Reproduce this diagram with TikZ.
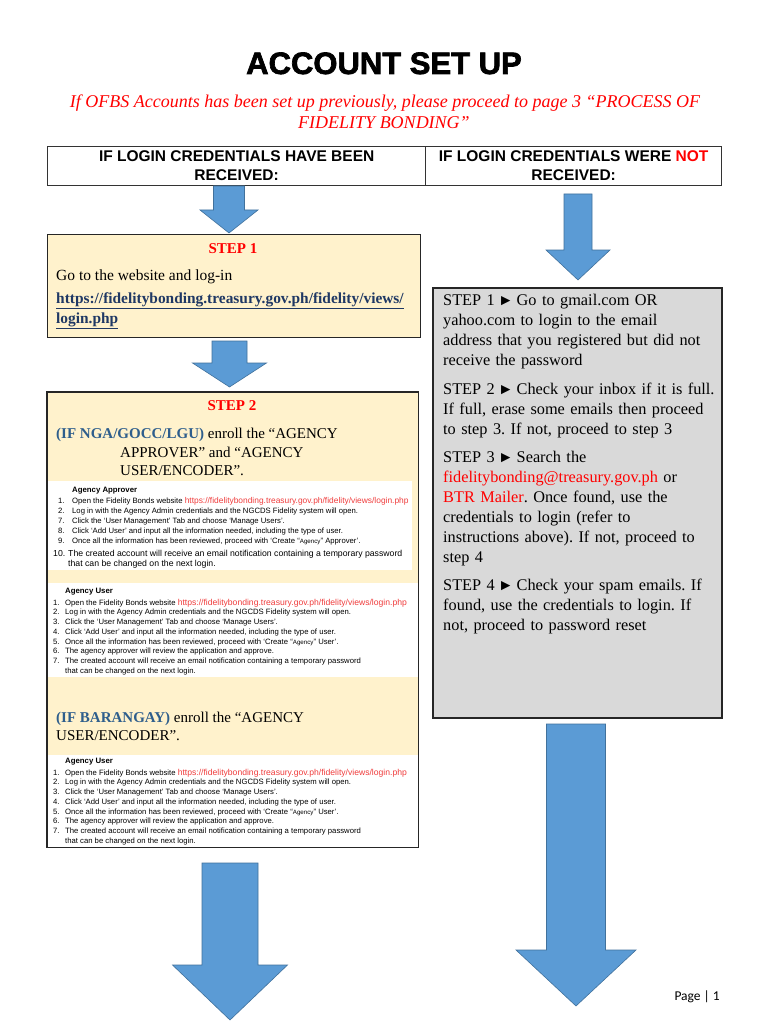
\documentclass[tikz,border=0pt]{standalone}
\usepackage{fontspec}
\setmainfont{Liberation Serif}
\newfontfamily\arialfont{Liberation Sans}
\newfontfamily\heavyfont{Liberation Sans}[BoldFeatures={FakeBold=2.2}]
\newfontfamily\calibrifont{Carlito}
\usetikzlibrary{positioning}
\definecolor{stepYellow}{HTML}{FFF2CC}
\definecolor{stepGray}{HTML}{D9D9D9}
\definecolor{arrowBlue}{HTML}{5B9BD5}
\definecolor{arrowEdge}{HTML}{41719C}
\definecolor{linkBlue}{HTML}{1F3864}
\definecolor{typeBlue}{HTML}{2E5E8C}
\definecolor{alertRed}{HTML}{FF0000}
\definecolor{urlRed}{HTML}{F03C3C}
\frenchspacing
\newcommand{\pointer}{\makebox[11pt]{\fontsize{15.5}{15.5}\selectfont ►}}

% agency user list, first baseline at #1
\newcommand{\agencyuserlist}[1]{%
  \node[lst, font=\arialfont\bfseries\fontsize{7.8}{10}\selectfont] at (65,#1-12) {Agency User};
  \foreach \n/\t [count=\i from 0] in {
      1/{Open the Fidelity Bonds website \textcolor{urlRed}{\fontsize{8.6}{10}\selectfont https://fidelitybonding.treasury.gov.ph/fidelity/views/login.php}},
      2/{Log in with the Agency Admin credentials and the NGCDS Fidelity system will open.},
      3/{Click the ‘User Management’ Tab and choose ‘Manage Users’.},
      4/{Click ‘Add User’ and input all the information needed, including the type of user.},
      5/{Once all the information has been reviewed, proceed with ‘Create “{\fontsize{6.2}{8}\selectfont Agency}” User’.},
      6/{The agency approver will review the application and approve.},
      7/{The created account will receive an email notification containing a temporary password}}
    {\node[lst] at (53,#1+9.75*\i) {\n.};
     \node[lst] at (65,#1+9.75*\i) {\t};}
  \node[lst] at (65,#1+9.75*7) {that can be changed on the next login.};
}

\begin{document}
\begin{tikzpicture}[x=1pt, y=-1pt,
    txt/.style={inner sep=0pt, anchor=base west},
    lst/.style={inner sep=0pt, anchor=base west, font=\arialfont\fontsize{7.7}{10}\selectfont},
    hdrcell/.style={draw=black!80, line width=1.3pt, anchor=north west, minimum height=39pt,
        inner sep=2pt, align=center, font=\arialfont\bfseries\fontsize{15.5}{19}\selectfont},
    stepbox/.style={anchor=north west, inner sep=0pt},
    stepline/.style={draw=black!85, line width=1.2pt},
    steptitle/.style={inner sep=0pt, anchor=base, text=alertRed, font=\bfseries\fontsize{15}{18}\selectfont},
    graytext/.style={inner sep=0pt, anchor=base west, text width=290pt, align=left,
        font=\fontsize{16.3}{20}\selectfont},
    arrowshape/.style={fill=arrowBlue, draw=arrowEdge, line width=0.6pt}
  ]
  \fill[white] (0,0) rectangle (768,1024);
  \useasboundingbox (0,0) rectangle (768,1024);

  % title
  \node[inner sep=0pt, anchor=base, font=\heavyfont\bfseries\fontsize{31}{36}\selectfont] (title) at (384,74) {ACCOUNT SET UP};
  \node[inner sep=0pt, anchor=base, text=alertRed, font=\itshape\fontsize{18}{21}\selectfont] (note1) at (385,108)
    {If OFBS Accounts has been set up previously, please proceed to page 3 “PROCESS OF};
  \node[inner sep=0pt, anchor=base, text=alertRed, font=\itshape\fontsize{18}{21}\selectfont] (note2) at (384,129)
    {FIDELITY BONDING”};

  % header row
  \node[hdrcell, minimum width=378pt] (hdrL) at (47,146) {IF LOGIN CREDENTIALS HAVE BEEN\\RECEIVED:};
  \node[hdrcell, minimum width=296pt] (hdrR) at (425,146) {IF LOGIN CREDENTIALS WERE \textcolor{alertRed}{NOT}\\RECEIVED:};

  % block arrows
  \foreach \cx/\sw/\ya/\yb/\hw/\yc in {229/15.5/186/210/29/233, 229.5/17.5/341/363/37/387,
      230/28/863/965/57.5/1020, 578/14/194/250/32/280, 576/29.5/724/950/60/1006}
    \draw[arrowshape] (\cx-\sw,\ya) -- (\cx+\sw,\ya) -- (\cx+\sw,\yb) -- (\cx+\hw,\yb)
      -- (\cx,\yc) -- (\cx-\hw,\yb) -- (\cx-\sw,\yb) -- cycle;

  % step 1
  \node[stepbox, stepline, fill=stepYellow, minimum width=373pt, minimum height=103pt] (step1) at (47,234) {};
  \node[steptitle] (s1title) at (233,253) {STEP 1};
  \node[txt, font=\fontsize{15.5}{17}\selectfont] (s1text) at (56,280) {Go to the website and log-in};
  \node[txt, text=linkBlue, font=\bfseries\fontsize{15.4}{17}\selectfont] (s1url) at (56,303)
    {\underline{https://fidelitybonding.treasury.gov.ph/fidelity/views/}};
  \node[txt, text=linkBlue, font=\bfseries\fontsize{15.4}{17}\selectfont] (s1url2) at (56,323) {\underline{login.php}};

  % step 2
  \node[stepbox, fill=stepYellow, minimum width=371pt, minimum height=455pt] (step2) at (47,392) {};
  \fill[white] (45,481) rectangle (412,570);
  \fill[white] (45,583) rectangle (418,677);
  \fill[white] (45,755) rectangle (418,847);
  \draw[stepline] (step2.north west) rectangle (step2.south east);
  \node[steptitle] (s2title) at (232,410) {STEP 2};
  \node[txt, font=\fontsize{15}{19}\selectfont] (s2a) at (56,438)
    {{\color{typeBlue}\bfseries (IF NGA/GOCC/LGU)} enroll the “AGENCY};
  \node[txt, font=\fontsize{15}{19}\selectfont] (s2b) at (120,457) {APPROVER” and “AGENCY};
  \node[txt, font=\fontsize{15}{19}\selectfont] (s2c) at (120,475) {USER/ENCODER”.};

  % agency approver list
  \node[lst, font=\arialfont\bfseries\fontsize{7.8}{10}\selectfont] at (72,492) {Agency Approver};
  \foreach \n/\y/\t in {
      1/503/{Open the Fidelity Bonds website \textcolor{urlRed}{\fontsize{8.4}{10}\selectfont https://fidelitybonding.treasury.gov.ph/fidelity/views/login.php}},
      2/513/{Log in with the Agency Admin credentials and the NGCDS Fidelity system will open.},
      7/523/{Click the ‘User Management’ Tab and choose ‘Manage Users’.},
      8/533/{Click ‘Add User’ and input all the information needed, including the type of user.},
      9/543/{Once all the information has been reviewed, proceed with ‘Create “{\fontsize{6.2}{8}\selectfont Agency}” Approver’.}}
    {\node[lst] at (58,\y) {\n.};
     \node[lst] at (72,\y) {\t};}
  \node[lst, font=\arialfont\fontsize{8.7}{10}\selectfont] at (53,556) {10.};
  \node[lst, font=\arialfont\fontsize{8.7}{10}\selectfont] at (68,556)
    {The created account will receive an email notification containing a temporary password};
  \node[lst, font=\arialfont\fontsize{8.7}{10}\selectfont] at (68,566) {that can be changed on the next login.};

  \agencyuserlist{605}

  \node[txt, font=\fontsize{15}{19}\selectfont] (s2d) at (56,722)
    {{\color{typeBlue}\bfseries (IF BARANGAY)} enroll the “AGENCY};
  \node[txt, font=\fontsize{15}{19}\selectfont] (s2e) at (56,740) {USER/ENCODER”.};

  \agencyuserlist{775}

  % not received column
  \node[stepbox, stepline, line width=1.6pt, fill=stepGray, minimum width=289pt, minimum height=430pt] (step3) at (432,287) {};
  \node[graytext] (g1) at (443,305) {STEP 1 \pointer{} Go to gmail.com OR\\yahoo.com to login to the email\\address that you registered but did not\\receive the password};
  \node[graytext] (g2) at (443,394) {STEP 2 \pointer{} Check your inbox if it is full.\\If full, erase some emails then proceed\\to step 3. If not, proceed to step 3};
  \node[graytext] (g3) at (443,462) {STEP 3 \pointer{} Search the\\\textcolor{alertRed}{fidelitybonding@treasury.gov.ph} or\\\textcolor{alertRed}{BTR Mailer}. Once found, use the\\credentials to login (refer to\\instructions above). If not, proceed to\\step 4};
  \node[graytext] (g4) at (443,590) {STEP 4 \pointer{} Check your spam emails. If\\found, use the credentials to login. If\\not, proceed to password reset};

  \node[inner sep=0pt, anchor=base east, font=\calibrifont\fontsize{13.5}{16}\selectfont] (page) at (720,1000) {Page | 1};
\end{tikzpicture}
\end{document}
